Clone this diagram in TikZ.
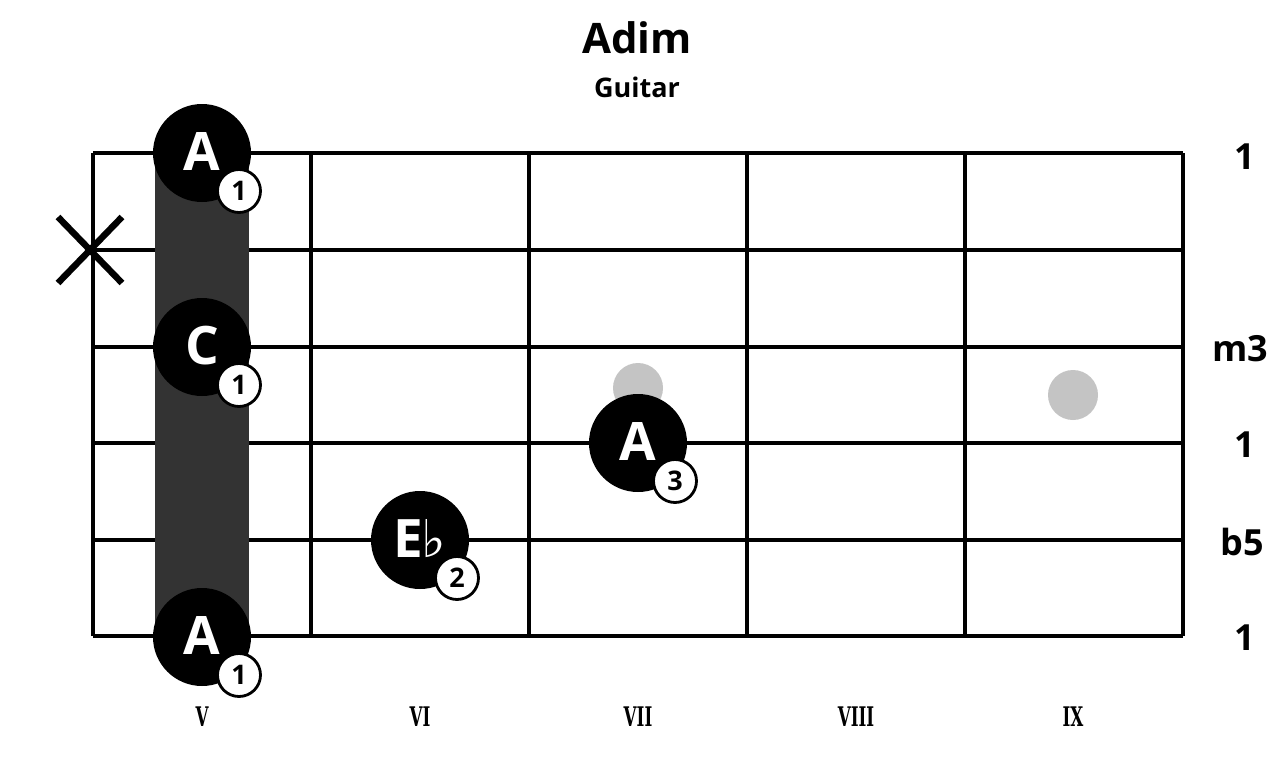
\documentclass[tikz,border=0pt]{standalone}
\usepackage{fontspec}
\setmainfont{Open Sans}
\newfontfamily\romanfont{DejaVu Serif}
\newfontfamily\symfont{DejaVu Sans}
\definecolor{barre}{HTML}{333333}
\definecolor{ghost}{HTML}{C4C4C4}
\begin{document}
\begin{tikzpicture}[x=1pt,y=-1pt,
  grid/.style={line width=3.4pt},
  fingerdot/.style={circle,fill=black,minimum size=98pt,inner sep=0pt,text=white,font=\fontsize{53}{53}\selectfont\bfseries},
  numdot/.style={circle,fill=white,draw=black,line width=2.8pt,minimum size=43pt,inner sep=0pt,font=\fontsize{27}{27}\selectfont\bfseries},
  ghostdot/.style={circle,fill=ghost,minimum size=50pt,inner sep=0pt},
  intlabel/.style={font=\fontsize{36}{36}\selectfont\bfseries},
  fretlabel/.style={font=\romanfont\bfseries\fontsize{27}{27}\selectfont}]
\useasboundingbox (0,0) rectangle (1280,760);
\fill[white] (0,0) rectangle (1280,760);
% title
\node (title) at (637,38) {\fontsize{42}{42}\selectfont\fontseries{sb}\selectfont Adim};
\node (sub) at (637,87) {\fontsize{27}{27}\selectfont\bfseries Guitar};
% grid
\foreach \x in {93,311,529,747,965,1183} \draw[grid] (\x,153) -- (\x,636);
\foreach \y in {153,250,347,443,540,636} \draw[grid] (93,\y) -- (1183,\y);
% muted string
\draw[line width=6.5pt] (58,217) -- (122,283);
\draw[line width=6.5pt] (58,283) -- (122,217);
% barre
\fill[barre] (155,153) rectangle (249,637);
% ghost dots
\node[ghostdot] (g1) at (638,388) {};
\node[ghostdot] (g2) at (1073,395) {};
% fingers
\node[fingerdot] (f1) at (202,153) {\raisebox{3pt}{A}};
\node[numdot] (n1) at (239,191) {1};
\node[fingerdot] (f2) at (202,347) {\raisebox{3pt}{C}};
\node[numdot] (n2) at (239,385) {1};
\node[fingerdot] (f3) at (420,540) {\raisebox{3pt}{E\kern-2pt{\symfont\bfseries\fontsize{52}{52}\selectfont ♭}}};
\node[numdot] (n3) at (457,578) {2};
\node[fingerdot] (f4) at (638,443) {\raisebox{3pt}{A}};
\node[numdot] (n4) at (675,481) {3};
\node[fingerdot] (f5) at (202,637) {\raisebox{3pt}{A}};
\node[numdot] (n5) at (239,675) {1};
% interval labels
\node[intlabel] (i1) at (1245,157) {1};
\node[intlabel] (i2) at (1240,349) {m3};
\node[intlabel] (i3) at (1245,445) {1};
\node[intlabel] (i4) at (1242,542) {b5};
\node[intlabel] (i5) at (1245,638) {1};
% fret labels
\node[fretlabel] (r1) at (202,717) {\scalebox{0.62}[1]{V}};
\node[fretlabel] (r2) at (420,717) {\scalebox{0.62}[1]{VI}};
\node[fretlabel] (r3) at (638,717) {\scalebox{0.62}[1]{VII}};
\node[fretlabel] (r4) at (856,717) {\scalebox{0.62}[1]{VIII}};
\node[fretlabel] (r5) at (1073,717) {\scalebox{0.62}[1]{IX}};
\end{tikzpicture}
\end{document}
